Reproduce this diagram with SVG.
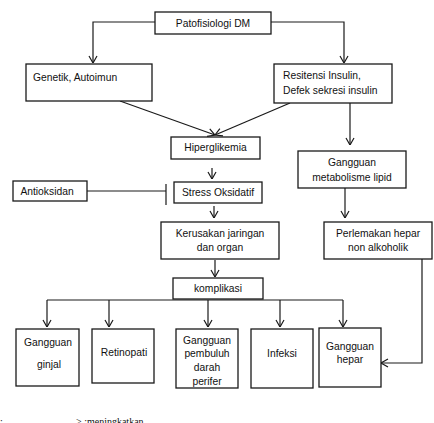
<svg xmlns="http://www.w3.org/2000/svg" width="434" height="423" viewBox="0 0 434 423">
<style>
.box{fill:#fff;stroke:#1a1a1a;stroke-width:1.3}
.t{font-family:"Liberation Sans",Arial,sans-serif;font-size:10.3px;fill:#111}
.c{text-anchor:middle}
.ln{fill:none;stroke:#1a1a1a;stroke-width:1.2}
.ser{font-family:"Liberation Serif","Times New Roman",serif;font-size:10px;fill:#111}
</style>
<defs>
<marker id="ah" viewBox="0 0 10 10" refX="10" refY="5" markerWidth="10" markerHeight="10" markerUnits="userSpaceOnUse" orient="auto">
<path d="M3,1 L10,5 L3,9" fill="none" stroke="#1a1a1a" stroke-width="1.2"/>
</marker>
<clipPath id="clipPem"><rect x="176" y="329" width="62" height="58.3"/></clipPath>
</defs>
<g id="connectors">
<path class="ln" d="M155,22 H93 V63" marker-end="url(#ah)"/>
<path class="ln" d="M271,22 H344 V63" marker-end="url(#ah)"/>
<path class="ln" d="M120,101 L215,135" marker-end="url(#ah)"/>
<path class="ln" d="M290,103 L215,135" marker-end="url(#ah)"/>
<path class="ln" d="M350,103 V145" marker-end="url(#ah)"/>
<path class="ln" d="M212,168 V179" marker-end="url(#ah)"/>
<path class="ln" d="M87,191 H166 M166,184 V205"/>
<path class="ln" d="M214,206 V218" marker-end="url(#ah)"/>
<path class="ln" d="M345,188 V218" marker-end="url(#ah)"/>
<path class="ln" d="M215,260 V277" marker-end="url(#ah)"/>
<path class="ln" d="M47,300 H343"/>
<path class="ln" d="M47,300 V327" marker-end="url(#ah)"/>
<path class="ln" d="M109,300 V327" marker-end="url(#ah)"/>
<path class="ln" d="M208,300 V327" marker-end="url(#ah)"/>
<path class="ln" d="M280,300 V327" marker-end="url(#ah)"/>
<path class="ln" d="M343,300 V327" marker-end="url(#ah)"/>
<path class="ln" d="M422,259 V363 H381" marker-end="url(#ah)"/>
</g>
<g id="patofisiologi">
<rect class="box" x="155" y="12" width="116" height="22"/>
<text class="t c" x="213" y="27">Patofisiologi DM</text>
</g>
<g id="genetik">
<rect class="box" x="26" y="64" width="126" height="37"/>
<text class="t" x="33" y="81">Genetik, Autoimun</text>
</g>
<g id="resitensi">
<rect class="box" x="274" y="64" width="118" height="39"/>
<text class="t" x="283" y="79">Resitensi Insulin,</text>
<text class="t" x="283" y="94">Defek sekresi insulin</text>
</g>
<g id="hiperglikemia">
<rect class="box" x="171" y="137" width="89" height="22"/>
<text class="t c" x="215.5" y="151">Hiperglikemia</text>
</g>
<g id="antioksidan">
<rect class="box" x="13" y="181" width="74" height="20"/>
<text class="t c" x="47" y="195">Antioksidan</text>
</g>
<g id="stress">
<rect class="box" x="174" y="182" width="88" height="21"/>
<text class="t c" x="218" y="196">Stress Oksidatif</text>
</g>
<g id="lipid">
<rect class="box" x="298" y="151" width="108" height="37"/>
<text class="t c" x="352" y="166">Gangguan</text>
<text class="t c" x="352" y="181">metabolisme lipid</text>
</g>
<g id="kerusakan">
<rect class="box" x="161" y="222" width="118" height="37"/>
<text class="t c" x="220" y="237">Kerusakan jaringan</text>
<text class="t c" x="220" y="251">dan organ</text>
</g>
<g id="perlemakan">
<rect class="box" x="324" y="222" width="108" height="37"/>
<text class="t c" x="378" y="237">Perlemakan hepar</text>
<text class="t c" x="378" y="251">non alkoholik</text>
</g>
<g id="komplikasi">
<rect class="box" x="173" y="278" width="90" height="21"/>
<text class="t c" x="218" y="292">komplikasi</text>
</g>
<g id="ginjal">
<rect class="box" x="16" y="329" width="63" height="57"/>
<text class="t c" x="48" y="346">Gangguan</text>
<text class="t c" x="49" y="368">ginjal</text>
</g>
<g id="retinopati">
<rect class="box" x="92" y="329" width="62" height="54"/>
<text class="t c" x="124" y="356">Retinopati</text>
</g>
<g id="pembuluh">
<rect class="box" x="176" y="329" width="62" height="59"/>
<g clip-path="url(#clipPem)">
<text class="t c" x="207" y="344">Gangguan</text>
<text class="t c" x="207" y="357">pembuluh</text>
<text class="t c" x="207" y="371">darah</text>
<text class="t c" x="207" y="385">perifer</text>
</g>
</g>
<g id="infeksi">
<rect class="box" x="251" y="329" width="62" height="59"/>
<text class="t c" x="282" y="357">Infeksi</text>
</g>
<g id="hepar">
<rect class="box" x="319" y="328" width="62" height="59"/>
<text class="t c" x="350" y="350">Gangguan</text>
<text class="t c" x="350" y="363">hepar</text>
</g>
<g id="legend">
<text class="ser" x="0" y="425">:</text>
<text class="ser" x="76" y="425">&gt; :meningkatkan</text>
</g>
</svg>
